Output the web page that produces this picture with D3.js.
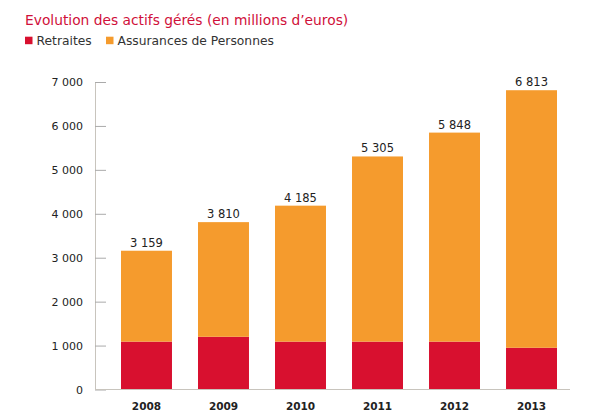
<!DOCTYPE html>
<html>
<head>
<meta charset="utf-8">
<script src="https://cdn.jsdelivr.net/npm/d3@7"></script>
<style>
  body { margin: 0; background: #fff; }
  svg { display: block; font-family: 'DejaVu Sans', Verdana, sans-serif; }
</style>
</head>
<body>
<div id="chart"></div>
<script>
const years = ['2008', '2009', '2010', '2011', '2012', '2013']
const totals = [3159, 3810, 4185, 5305, 5848, 6813]
const retraites = [1090, 1200, 1090, 1090, 1090, 950]
const assurances = totals.map((t, i) => t - retraites[i])
const yTicks = [0, 1000, 2000, 3000, 4000, 5000, 6000, 7000]

const seriesNames = ['Retraites', 'Assurances de Personnes']
const colors = ['#d8102f', '#f59b2d']

const width = 592
const height = 420
const margin = { top: 82, right: 22, bottom: 30, left: 95 }

const svg = d3.select('#chart').append('svg')
  .attr('width', width)
  .attr('height', height)

const rows = years.map((y, i) => ({ year: y, r: retraites[i], a: assurances[i], total: totals[i] }))
const stack = d3.stack().keys(['r', 'a'])(rows)

// bars sit between x=121 and x=557, gap ~ a third of the step
const x = d3.scaleBand()
  .domain(years)
  .range([121, 557])
  .paddingInner(0.338)
  .paddingOuter(0)

const y = d3.scaleLinear()
  .domain([0, 7000])
  .range([height - margin.bottom - 0.5, margin.top])

const fmt = d => d3.format(',')(d).replace(/,/g, ' ')

// title + legend
svg.append('text')
  .attr('x', 25).attr('y', 25)
  .attr('fill', '#d0103a')
  .style('font-size', '13.8px')
  .text('Evolution des actifs gérés (en millions d’euros)')

const legend = svg.append('g')
const legendX = [25, 106]
seriesNames.forEach((n, i) => {
  legend.append('rect')
    .attr('x', legendX[i]).attr('y', 36.7)
    .attr('width', 7.5).attr('height', 7.5)
    .attr('fill', colors[i])
  legend.append('text')
    .attr('x', legendX[i] + 11.5).attr('y', 45)
    .attr('fill', '#333')
    .style('font-size', '12.3px')
    .text(n)
})

// bars
svg.append('g')
  .selectAll('g')
  .data(stack)
  .join('g')
  .attr('fill', (d, i) => colors[i])
  .selectAll('rect')
  .data(d => d)
  .join('rect')
  .attr('x', d => x(d.data.year))
  .attr('y', d => y(d[1]))
  .attr('height', d => y(d[0]) - y(d[1]))
  .attr('width', x.bandwidth())

// total labels
svg.append('g')
  .selectAll('text')
  .data(rows)
  .join('text')
  .attr('x', d => x(d.year) + x.bandwidth() / 2)
  .attr('y', d => y(d.total) - 4)
  .attr('text-anchor', 'middle')
  .attr('fill', '#222')
  .style('font-size', '11.5px')
  .text(d => fmt(d.total))

// y axis
const yAxis = svg.append('g')
  .attr('transform', `translate(${margin.left},0)`)
  .call(d3.axisRight(y).tickValues(yTicks).tickSize(11).tickFormat(''))
yAxis.selectAll('line').attr('stroke', '#aaa')
yAxis.select('.domain').attr('stroke', '#c8c4bd').attr('d', `M0.5,${y(7000)}V${y(0)}`)

svg.append('g')
  .selectAll('text')
  .data(yTicks)
  .join('text')
  .attr('x', margin.left - 12)
  .attr('y', d => y(d) + 4)
  .attr('text-anchor', 'end')
  .attr('fill', '#222')
  .style('font-size', '11px')
  .text(fmt)

// baseline
svg.append('line')
  .attr('x1', margin.left).attr('x2', 570)
  .attr('y1', y(0)).attr('y2', y(0))
  .attr('stroke', '#c8c4bd')

// x labels
svg.append('g')
  .selectAll('text')
  .data(years)
  .join('text')
  .attr('x', d => x(d) + x.bandwidth() / 2)
  .attr('y', y(0) + 20)
  .attr('text-anchor', 'middle')
  .attr('fill', '#222')
  .style('font-size', '10.5px')
  .style('font-weight', 'bold')
  .text(d => d)
</script>
</body>
</html>
